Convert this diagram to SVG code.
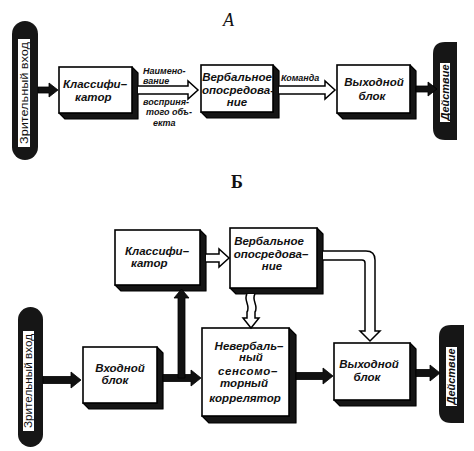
<svg xmlns="http://www.w3.org/2000/svg" width="474" height="451" viewBox="0 0 474 451">
<defs>
<style>
.face{fill:#fff;stroke:#000;stroke-width:1.6}
.ext{fill:#151515;stroke:#000;stroke-width:1.2;stroke-linejoin:round}
.pill{fill:#161616}
.lab{fill:#fff}
.t{font-family:"Liberation Sans",Arial,sans-serif;font-style:italic;font-weight:bold;font-size:11.5px;fill:#111}
.s{font-family:"Liberation Sans",Arial,sans-serif;font-style:italic;font-weight:bold;font-size:9px;fill:#111}
.v{font-family:"Liberation Sans",Arial,sans-serif;font-size:10.5px;fill:#111}
.vi{font-family:"Liberation Sans",Arial,sans-serif;font-style:italic;font-weight:bold;font-size:10.5px;fill:#111}
.ho{fill:#fff;stroke:#000;stroke-width:1.5;stroke-linejoin:miter}
.bk{fill:#111;stroke:#000;stroke-width:0.8}
.ttl{font-family:"Liberation Serif","Times New Roman",serif;font-size:18px;fill:#111}
</style>
</defs>

<text class="ttl" x="223" y="26" font-style="italic">А</text>
<text class="ttl" x="231" y="188" font-weight="bold" font-size="16">Б</text>

<!-- Panel A -->
<g id="a-input">
<rect class="pill" x="12" y="21" width="26" height="139" rx="13"/>
<rect class="lab" x="18" y="39" width="12" height="108"/>
<text class="v" transform="translate(24,93) rotate(-90)" x="0" y="3.8" text-anchor="middle" textLength="102" lengthAdjust="spacingAndGlyphs">Зрительный вход</text>
</g>
<g id="a-classifier">
<path class="ext" d="M132,67 L138,73 L138,119 L65,119 L59,113 L132,113 Z"/>
<rect class="face" x="59" y="67" width="73" height="46"/>
<text class="t" x="63" y="88">Классифи–</text>
<text class="t" x="75" y="101">катор</text>
</g>
<g id="a-verbal">
<path class="ext" d="M273,65 L279,71 L279,118 L207,118 L201,112 L273,112 Z"/>
<rect class="face" x="201" y="65" width="72" height="47"/>
<text class="t" x="237" y="81" text-anchor="middle">Вербальное</text>
<text class="t" x="238" y="94" text-anchor="middle">опосредова-</text>
<text class="t" x="237" y="106" text-anchor="middle">ние</text>
</g>
<g id="a-output">
<path class="ext" d="M410,65 L416,71 L416,119 L343,119 L337,113 L410,113 Z"/>
<rect class="face" x="337" y="65" width="73" height="48"/>
<text class="t" x="374" y="86" text-anchor="middle">Выходной</text>
<text class="t" x="372" y="100" text-anchor="middle">блок</text>
</g>
<g id="a-action">
<path class="pill" d="M445,42 H457 V140 H445 Q433,140 433,128 V54 Q433,42 445,42 Z"/>
<rect class="lab" x="440" y="63" width="10" height="59"/>
<text class="vi" transform="translate(445,92.5) rotate(-90)" x="0" y="3.6" text-anchor="middle" textLength="56" lengthAdjust="spacingAndGlyphs">Действие</text>
</g>
<g id="a-labels">
<text class="s" x="143" y="73.5">Наимено-</text>
<text class="s" x="143" y="84">вание</text>
<text class="s" x="143" y="104.5">восприня-</text>
<text class="s" x="146" y="115">того объ-</text>
<text class="s" x="153" y="125.5">екта</text>
<text class="s" x="281" y="81">Команда</text>
</g>

<g id="a-connectors">
<path class="bk" d="M38,87 H49 V83 L58,90 L49,97 V93 H38 Z"/>
<path class="ho" d="M138,86 H188 V81 L198,90 L188,99 V94 H138"/>
<path class="ho" d="M279,86 H325 V81 L335,90 L325,99 V94 H279"/>
<path class="bk" d="M416,86 H428 V82 L437,89 L428,96 V92 H416 Z"/>
</g>

<!-- Panel B -->
<g id="b-input">
<rect class="pill" x="18" y="307" width="25" height="140" rx="12.5"/>
<rect class="lab" x="23" y="331" width="11" height="100"/>
<text class="v" transform="translate(28.5,381) rotate(-90)" x="0" y="3.8" text-anchor="middle" textLength="94" lengthAdjust="spacingAndGlyphs">Зрительный вход</text>
</g>
<g id="b-inblock">
<path class="ext" d="M157,347 L163,353 L163,409 L89,409 L83,403 L157,403 Z"/>
<rect class="face" x="83" y="347" width="74" height="56"/>
<text class="t" x="120" y="372" text-anchor="middle">Входной</text>
<text class="t" x="115" y="384" text-anchor="middle">блок</text>
</g>
<g id="b-classifier">
<path class="ext" d="M200,230 L206,236 L206,291 L121,291 L115,285 L200,285 Z"/>
<rect class="face" x="115" y="230" width="85" height="55"/>
<text class="t" x="125" y="255">Классифи–</text>
<text class="t" x="131" y="267">катор</text>
</g>
<g id="b-verbal">
<path class="ext" d="M317,228 L323,234 L323,294 L236,294 L230,288 L317,288 Z"/>
<rect class="face" x="230" y="228" width="87" height="60"/>
<text class="t" x="269" y="245" text-anchor="middle">Вербальное</text>
<text class="t" x="271" y="258" text-anchor="middle">опосредова–</text>
<text class="t" x="272" y="270" text-anchor="middle">ние</text>
</g>
<g id="b-nonverbal">
<path class="ext" d="M289,328 L296,335 L296,423 L209,423 L202,416 L289,416 Z"/>
<rect class="face" x="202" y="328" width="87" height="88"/>
<text class="t" x="249" y="350" text-anchor="middle">Невербаль–</text>
<text class="t" x="251" y="361" text-anchor="middle">ный</text>
<text class="t" x="248" y="375" text-anchor="middle" letter-spacing="0.6">сенсомо–</text>
<text class="t" x="244" y="387" text-anchor="middle">торный</text>
<text class="t" x="245" y="402" text-anchor="middle">коррелятор</text>
</g>
<g id="b-output">
<path class="ext" d="M410,343 L416,349 L416,406 L340,406 L334,400 L410,400 Z"/>
<rect class="face" x="334" y="343" width="76" height="57"/>
<text class="t" x="369" y="368" text-anchor="middle">Выходной</text>
<text class="t" x="367" y="381" text-anchor="middle">блок</text>
</g>
<g id="b-action">
<path class="pill" d="M451,325 H464 V423 H451 Q439,423 439,411 V337 Q439,325 451,325 Z"/>
<rect class="lab" x="446" y="347" width="11" height="59"/>
<text class="vi" transform="translate(451.5,376.5) rotate(-90)" x="0" y="3.8" text-anchor="middle" textLength="56" lengthAdjust="spacingAndGlyphs">Действие</text>
</g>

<g id="b-connectors">
<path class="bk" d="M43,376.5 H71 V372 L81,380 L71,388 V383.5 H43 Z"/>
<path class="bk" d="M163,374.5 H191 V370 L201,378 L191,386 V381.5 H163 Z"/>
<path class="bk" d="M178,378 V298 H174 L181.5,289 L189,298 H185 V378 Z"/>
<path class="bk" d="M296,372.5 H323 V368 L333,376 L323,384 V379.5 H296 Z"/>
<path class="bk" d="M416,369.5 H430 V365 L440,373 L430,381 V376.5 H416 Z"/>
<path class="ho" d="M206,254 H219 V249 L229,258 L219,267 V262 H206"/>
<path class="ho" d="M247,294 C243,300 251,306 247,312 V318 H243 L251,328 L259,318 H255 V312 C259,306 251,300 255,294"/>
<path class="ho" d="M323,251 H366 Q375,251 375,260 V331 H380 L370,341 L360,331 H365 V263 Q365,260 362,260 H323"/>
</g>
</svg>
